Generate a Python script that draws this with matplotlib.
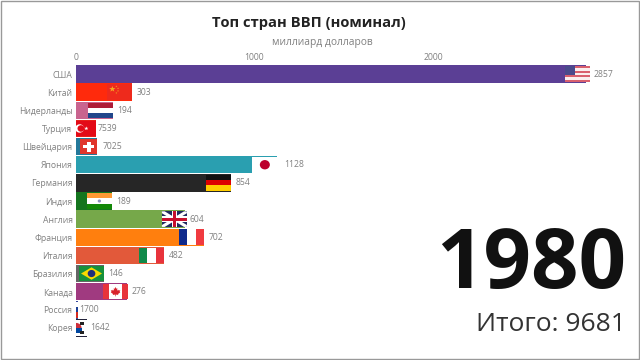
import matplotlib
matplotlib.use('Agg')
import matplotlib.pyplot as plt
from matplotlib.patches import Rectangle, Circle, Polygon
from matplotlib.transforms import Affine2D
import numpy as np

countries = ['США', 'Китай', 'Нидерланды', 'Турция', 'Швейцария', 'Япония', 'Германия', 'Индия',
             'Англия', 'Франция', 'Италия', 'Бразилия', 'Канада', 'Россия', 'Корея']
flags = ['us', 'cn', 'nl', 'tr', 'ch', 'jp', 'de', 'in', 'gb', 'fr', 'it', 'br', 'ca', 'ru', 'kr']
bar_values = [2857, 312, 207, 112, 118, 1128, 868, 201, 610, 717, 493, 157, 286, 11, 62]
value_labels = ['2857', '303', '194', '7539', '7025', '1128', '854', '189', '604', '702', '482',
                '146', '276', '1700', '1642']
bar_colors = ['#5b3f95', '#ff2a0c', '#c9648f', '#e8201a', '#24789a', '#2a9fb0', '#262626', '#14751e',
              '#76a84a', '#ff7f0e', '#e2593a', '#666666', '#a03a80', '#3a4aa0', '#22223a']
x_ticks = [0, 1000, 2000]
title = 'Топ стран ВВП (номинал)'
subtitle = 'миллиард долларов'
year = '1980'
total = 'Итого: 9681'

plt.rcParams['font.family'] = ['Open Sans', 'DejaVu Sans']
GREY = '#808080'

fig = plt.figure(figsize=(6.4, 3.6), dpi=100)
W, H = 640.0, 360.0
ax = fig.add_axes([76 / W, 1 - 337 / H, 544 / W, 272 / H])
ax.set_xlim(0, 544 / 0.1785)
ax.set_ylim(14.5, -0.5)
ax.patch.set_alpha(0)
for s in ax.spines.values():
    s.set_visible(False)

ax.barh(range(len(countries)), bar_values, height=0.96, color=bar_colors, zorder=1)

ax.xaxis.tick_top()
ax.set_xticks(x_ticks)
ax.set_xticklabels([str(t) for t in x_ticks], fontsize=6.2, color=GREY)
ax.tick_params(axis='x', length=0, pad=2.5)
ax.set_yticks(range(len(countries)))
ax.set_yticklabels(countries, fontsize=6.2, color=GREY)
ax.tick_params(axis='y', length=0, pad=2.5)

FW = 25 / 0.1785   # flag width in data units
FH = 0.86


def flag_tr(end, row, ratio=1.5):
    # flag space: u 0..ratio, v 0..1 (top down)
    fw = FW * ratio / 1.5
    return Affine2D().scale(fw / ratio, FH).translate(end - fw, row - FH / 2) + ax.transData


def rect(tr, u, v, w, h, c, z=2):
    ax.add_patch(Rectangle((u, v), w, h, color=c, lw=0, transform=tr, zorder=z))


def circ(tr, u, v, r, c):
    ax.add_patch(Circle((u, v), r, color=c, lw=0, transform=tr, zorder=3))


def poly(tr, pts, c):
    ax.add_patch(Polygon(pts, closed=True, color=c, lw=0, transform=tr, zorder=3))


def star(u, v, r):
    a = np.arange(10) * np.pi / 5 - np.pi / 2
    rr = np.where(np.arange(10) % 2 == 0, r, r * 0.4)
    return np.c_[u + rr * np.cos(a), v + rr * np.sin(a)]


def leaf(u, v, s):
    pts = [(0, -1), (0.18, -0.62), (0.38, -0.72), (0.3, -0.2), (0.55, -0.42), (0.62, -0.25), (0.95, -0.3),
           (0.82, 0.05), (0.95, 0.15), (0.5, 0.5), (0.55, 0.7), (0.06, 0.62), (0.06, 1)]
    pts = pts + [(-x, y) for x, y in pts[::-1][:-1]]
    return [(u + x * s, v + y * s) for x, y in pts]


def vstripes(tr, cols):
    for i, c in enumerate(cols):
        rect(tr, i * 0.5, 0, 0.5, 1, c)


def hstripes(tr, cols):
    h = 1 / len(cols)
    for i, c in enumerate(cols):
        rect(tr, 0, i * h, 1.5, h, c)


def draw_flag(code, end, row):
    tr = flag_tr(end, row, 1.0 if code == 'ch' else 1.5)
    if code == 'us':
        for i in range(7):
            rect(tr, 0, i / 7, 1.5, 1 / 7, '#d9606e' if i % 2 == 0 else '#fbeeee')
        rect(tr, 0, 0, 0.6, 4 / 7, '#4a4a8c')
    elif code == 'cn':
        rect(tr, 0, 0, 1.5, 1, '#ee2a1c')
        poly(tr, star(0.34, 0.3, 0.2), '#f5a623')
        for u, v in [(0.58, 0.12), (0.68, 0.25), (0.68, 0.42), (0.58, 0.55)]:
            poly(tr, star(u, v, 0.06), '#f5a623')
    elif code == 'nl':
        hstripes(tr, ['#ae1c38', '#ffffff', '#21468b'])
    elif code == 'tr':
        rect(tr, 0, 0, 1.5, 1, '#e30a17')
        circ(tr, 0.52, 0.5, 0.27, 'white')
        circ(tr, 0.6, 0.5, 0.21, '#e30a17')
        poly(tr, star(0.92, 0.5, 0.13), 'white')
    elif code == 'ch':
        rect(tr, 0, 0, 1, 1, '#e0352b')
        rect(tr, 0.38, 0.18, 0.24, 0.64, 'white')
        rect(tr, 0.18, 0.38, 0.64, 0.24, 'white')
    elif code == 'jp':
        rect(tr, 0, 0, 1.5, 1, 'white')
        circ(tr, 0.75, 0.5, 0.3, '#bc002d')
    elif code == 'de':
        hstripes(tr, ['#111111', '#dd0000', '#ffce00'])
    elif code == 'in':
        hstripes(tr, ['#ff9933', '#ffffff', '#138808'])
        circ(tr, 0.75, 0.5, 0.1, '#9090c0')
    elif code == 'gb':
        rect(tr, 0, 0, 1.5, 1, '#1f2a60')
        for pts in ([(0, 0), (0.17, 0), (1.5, 0.88), (1.5, 1), (1.33, 1), (0, 0.12)],
                    [(1.5, 0), (1.33, 0), (0, 0.88), (0, 1), (0.17, 1), (1.5, 0.12)]):
            poly(tr, pts, 'white')
        rect(tr, 0.6, 0, 0.3, 1, 'white', 4)
        rect(tr, 0, 0.33, 1.5, 0.34, 'white', 4)
        rect(tr, 0.67, 0, 0.16, 1, '#c8102e', 5)
        rect(tr, 0, 0.41, 1.5, 0.18, '#c8102e', 5)
    elif code == 'fr':
        vstripes(tr, ['#0f2a8c', '#ffffff', '#f03a40'])
    elif code == 'it':
        vstripes(tr, ['#0f8a4a', '#ffffff', '#e8333c'])
    elif code == 'br':
        rect(tr, 0, 0, 1.5, 1, '#16913c')
        poly(tr, [(0.75, 0.1), (1.38, 0.5), (0.75, 0.9), (0.12, 0.5)], '#f7d900')
        circ(tr, 0.75, 0.5, 0.23, '#1f2f7a')
    elif code == 'ca':
        rect(tr, 0, 0, 1.5, 1, '#e8333c')
        rect(tr, 0.375, 0, 0.75, 1, 'white')
        poly(tr, leaf(0.75, 0.5, 0.3), '#d8232c')
    elif code == 'ru':
        hstripes(tr, ['#ffffff', '#1c3f94', '#d52b1e'])
    elif code == 'kr':
        rect(tr, 0, 0, 1.5, 1, 'white')
        circ(tr, 0.85, 0.5, 0.32, '#cd2e3a')
        ax.add_patch(Rectangle((0.5, 0.5), 0.7, 0.32, color='#0047a0', lw=0, transform=tr, zorder=3))
        for u, v in [(1.2, 0.2), (1.2, 0.8)]:
            rect(tr, u - 0.1, v - 0.08, 0.2, 0.16, '#222222', 4)


# the flags trail the animated bars by a few pixels, labels too
flag_nudge = {'us': 4, 'gb': 2, 'ca': 1}
label_nudge = {'us': 8, 'tr': 1.5, 'ch': 5.5, 'jp': 7, 'ru': 1.5, 'kr': 3.5}
for i, code in enumerate(flags):
    end = bar_values[i] + flag_nudge.get(code, 0) / 0.1785
    draw_flag(code, end, i)
    lx = bar_values[i] + label_nudge.get(code, 4.5) / 0.1785
    ax.text(lx, i, value_labels[i], va='center', ha='left', fontsize=6.2, color=GREY, zorder=6)

fig.text(308.5 / W, 1 - 23 / H, title, ha='center', va='center', fontsize=10.6, fontweight='bold', color='#222222')
fig.text(322 / W, 1 - 42 / H, subtitle, ha='center', va='center', fontsize=7.4, color=GREY)
fig.text(626 / W, 1 - 288 / H, year, ha='right', va='baseline', fontsize=60, fontweight='bold', color='#111111')
fig.text(626 / W, 1 - 331 / H, total, ha='right', va='baseline', fontsize=19, color='#333333')

fig.add_artist(Rectangle((0.002, 0.004), 0.996, 0.993, transform=fig.transFigure, fill=False, ec='#999999', lw=1))
fig.savefig('out.png', dpi=100)
